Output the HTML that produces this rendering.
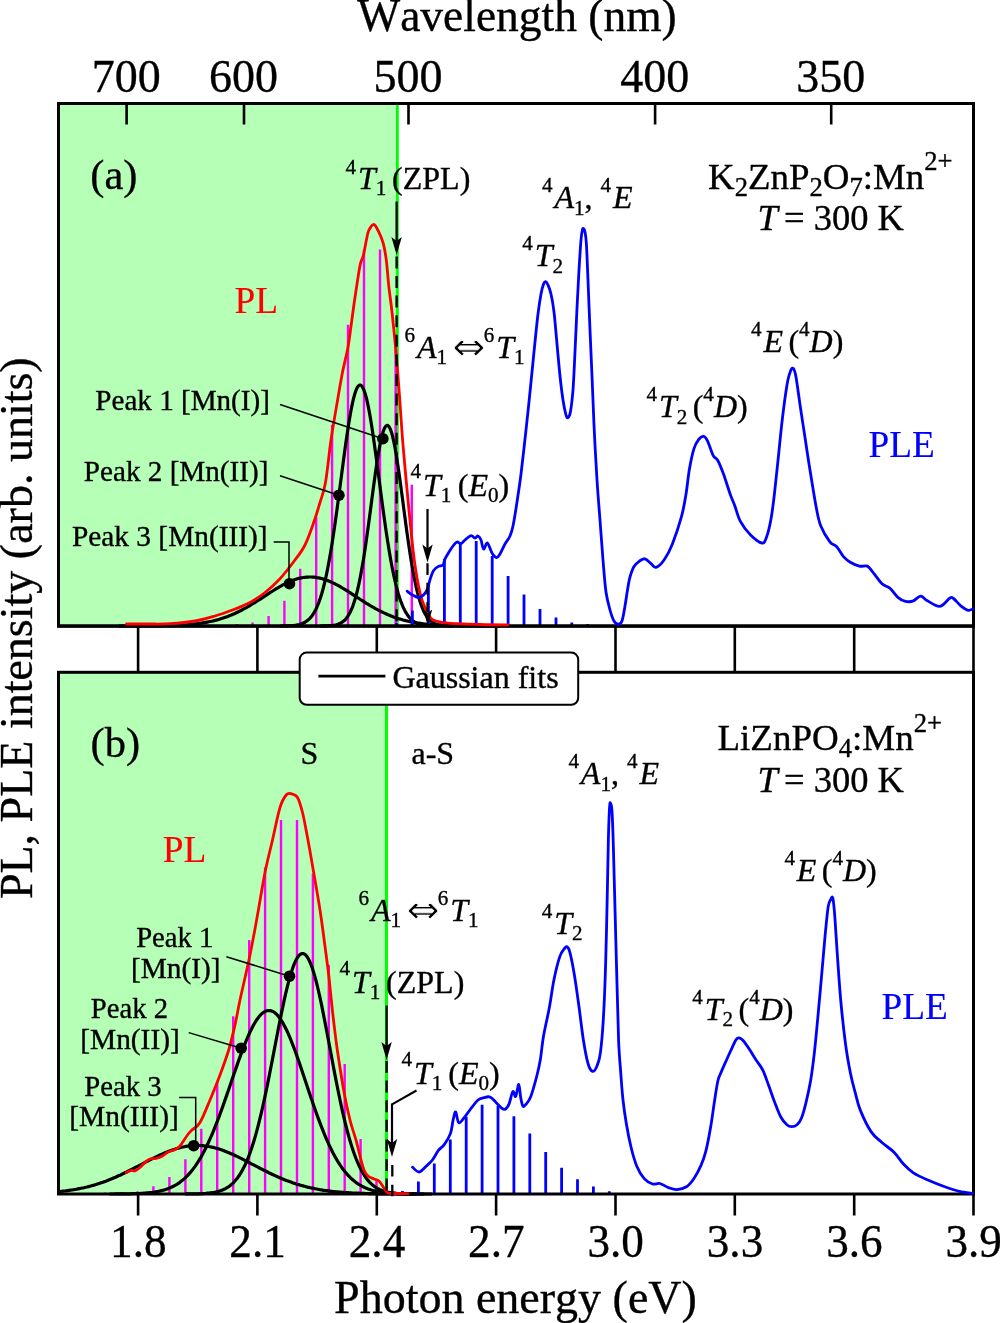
<!DOCTYPE html>
<html lang="en"><head><meta charset="utf-8"><title>PL and PLE spectra</title>
<style>html,body{margin:0;padding:0;background:#fff}svg{display:block}text{font-family:"Liberation Serif","Times New Roman",serif;stroke:#000;stroke-width:0.35px;font-kerning:none}.i{font-style:italic}</style></head><body>
<svg width="1000" height="1323" viewBox="0 0 1000 1323">
<rect width="1000" height="1323" fill="#fff"/>
<rect x="58.5" y="103.5" width="338.7" height="522.5" fill="#b6ffb6"/>
<rect x="58.5" y="672.3" width="328" height="521.7" fill="#b6ffb6"/>
<path d="M397.4 103.5V626" stroke="#00ff00" stroke-width="2.8" fill="none"/>
<path d="M386.5 672.3V1194" stroke="#00ff00" stroke-width="3" fill="none"/>
<path d="M236.8 626V624M252.5 626V622.5M268.6 626V616M284.4 626V600.7M300.2 626V568.7M316.2 626V517M332.1 626V424.8M348 626V324.8M364 626V249.6M380 626V249.6M395.6 626V345.7M411.8 626V484.8" stroke="#ff00ff" stroke-width="2.4" fill="none"/>
<path d="M105.5 1194V1192.5M121.6 1194V1192M137.5 1194V1191.2M153.4 1194V1186.2M169.4 1194V1177M185.4 1194V1159.2M201.3 1194V1128.7M217.2 1194V1082.5M233.2 1194V1016.2M249.2 1194V940M265.1 1194V867.5M281 1194V820M297 1194V820M312.9 1194V873.7M328.8 1194V965M344.7 1194V1064M360.6 1194V1139M376.5 1194V1181" stroke="#ff00ff" stroke-width="2.4" fill="none"/>
<path d="M320 626L321.5 626L323 625.9L324.5 625.9L326 625.9L327.5 625.8L329 625.7L330.5 625.6L332 625.5L333.5 625.3L335 625L336.5 624.7L338 624.2L339.5 623.6L341 622.9L342.5 621.9L344 620.8L345.5 619.3L347 617.5L348.5 615.2L350 612.5L351.5 609.3L353 605.6L354.5 601.1L356 596L357.5 590.2L359 583.5L360.5 576.1L362 567.9L363.5 559L365 549.4L366.5 539.1L368 528.3L369.5 517.2L371 505.8L372.5 494.4L374 483.2L375.5 472.4L377 462.2L378.5 452.9L380 444.6L381.5 437.6L383 432.1L384.5 428.1L386 425.9L387.5 425.3L389 426.6L390.5 429.5L392 434.1L393.5 440.3L395 447.8L396.5 456.5L398 466.2L399.5 476.6L401 487.6L402.5 498.9L404 510.4L405.5 521.7L407 532.7L408.5 543.3L410 553.3L411.5 562.7L413 571.3L414.5 579.2L416 586.3L417.5 592.6L419 598.2L420.5 603L422 607.2L423.5 610.7L425 613.7L426.5 616.2L428 618.2L429.5 619.9L431 621.3L432.5 622.4L434 623.2L435.5 623.9L437 624.4L438.5 624.8L440 625.1L441.5 625.4L443 625.5L444.5 625.7L446 625.8L447.5 625.8L449 625.9L450.5 625.9L452 625.9L453.5 626" stroke="#000" stroke-width="3.2" fill="none" stroke-linejoin="round"/>
<path d="M279.8 626L281.3 626L282.8 625.9L284.3 625.9L285.8 625.9L287.3 625.8L288.8 625.8L290.3 625.7L291.8 625.6L293.3 625.5L294.8 625.3L296.3 625.1L297.8 624.8L299.3 624.5L300.8 624L302.3 623.5L303.8 622.8L305.3 622L306.8 621L308.3 619.8L309.8 618.4L311.3 616.7L312.8 614.7L314.3 612.3L315.8 609.5L317.3 606.2L318.8 602.5L320.3 598.3L321.8 593.5L323.3 588L324.8 582L326.3 575.3L327.8 567.9L329.3 559.9L330.8 551.2L332.3 541.9L333.8 532.1L335.3 521.7L336.8 510.9L338.3 499.8L339.8 488.4L341.3 476.9L342.8 465.5L344.3 454.2L345.8 443.3L347.3 432.9L348.8 423.2L350.3 414.3L351.8 406.3L353.3 399.5L354.8 393.8L356.3 389.5L357.8 386.6L359.3 385.2L360.8 385.2L362.3 386.7L363.8 389.7L365.3 394L366.8 399.7L368.3 406.6L369.8 414.6L371.3 423.6L372.8 433.3L374.3 443.8L375.8 454.7L377.3 465.9L378.8 477.4L380.3 488.8L381.8 500.2L383.3 511.3L384.8 522.1L386.3 532.5L387.8 542.3L389.3 551.6L390.8 560.2L392.3 568.2L393.8 575.6L395.3 582.2L396.8 588.3L398.3 593.7L399.8 598.5L401.3 602.7L402.8 606.4L404.3 609.6L405.8 612.4L407.3 614.7L408.8 616.8L410.3 618.5L411.8 619.9L413.3 621.1L414.8 622.1L416.3 622.9L417.8 623.5L419.3 624L420.8 624.5L422.3 624.8L423.8 625.1L425.3 625.3L426.8 625.5L428.3 625.6L429.8 625.7L431.3 625.8L432.8 625.8L434.3 625.9L435.8 625.9L437.3 625.9L438.8 626" stroke="#000" stroke-width="3.2" fill="none" stroke-linejoin="round"/>
<path d="M118.9 626L120.4 626L121.9 626L123.4 626L124.9 626L126.4 626L127.9 626L129.4 626L130.9 626L132.4 626L133.9 626L135.4 626L136.9 626L138.4 626L139.9 626L141.4 625.9L142.9 625.9L144.4 625.9L145.9 625.9L147.4 625.9L148.9 625.9L150.4 625.9L151.9 625.9L153.4 625.9L154.9 625.9L156.4 625.8L157.9 625.8L159.4 625.8L160.9 625.8L162.4 625.7L163.9 625.7L165.4 625.7L166.9 625.7L168.4 625.6L169.9 625.6L171.4 625.5L172.9 625.5L174.4 625.4L175.9 625.4L177.4 625.3L178.9 625.2L180.4 625.2L181.9 625.1L183.4 625L184.9 624.9L186.4 624.8L187.9 624.7L189.4 624.5L190.9 624.4L192.4 624.3L193.9 624.1L195.4 623.9L196.9 623.8L198.4 623.6L199.9 623.4L201.4 623.2L202.9 622.9L204.4 622.7L205.9 622.4L207.4 622.1L208.9 621.8L210.4 621.5L211.9 621.2L213.4 620.9L214.9 620.5L216.4 620.1L217.9 619.7L219.4 619.3L220.9 618.8L222.4 618.3L223.9 617.8L225.4 617.3L226.9 616.8L228.4 616.2L229.9 615.6L231.4 615L232.9 614.3L234.4 613.7L235.9 613L237.4 612.3L238.9 611.5L240.4 610.8L241.9 610L243.4 609.2L244.9 608.4L246.4 607.6L247.9 606.7L249.4 605.8L250.9 604.9L252.4 604L253.9 603.1L255.4 602.1L256.9 601.2L258.4 600.2L259.9 599.3L261.4 598.3L262.9 597.3L264.4 596.3L265.9 595.4L267.4 594.4L268.9 593.4L270.4 592.4L271.9 591.5L273.4 590.5L274.9 589.6L276.4 588.7L277.9 587.8L279.4 586.9L280.9 586.1L282.4 585.2L283.9 584.4L285.4 583.7L286.9 582.9L288.4 582.2L289.9 581.6L291.4 580.9L292.9 580.3L294.4 579.8L295.9 579.3L297.4 578.8L298.9 578.4L300.4 578.1L301.9 577.8L303.4 577.5L304.9 577.3L306.4 577.2L307.9 577.1L309.4 577L310.9 577L312.4 577.1L313.9 577.2L315.4 577.3L316.9 577.6L318.4 577.8L319.9 578.1L321.4 578.5L322.9 578.9L324.4 579.4L325.9 579.9L327.4 580.5L328.9 581.1L330.4 581.7L331.9 582.4L333.4 583.1L334.9 583.8L336.4 584.6L337.9 585.4L339.4 586.2L340.9 587.1L342.4 588L343.9 588.9L345.4 589.8L346.9 590.7L348.4 591.7L349.9 592.6L351.4 593.6L352.9 594.6L354.4 595.6L355.9 596.5L357.4 597.5L358.9 598.5L360.4 599.5L361.9 600.4L363.4 601.4L364.9 602.3L366.4 603.3L367.9 604.2L369.4 605.1L370.9 606L372.4 606.9L373.9 607.7L375.4 608.6L376.9 609.4L378.4 610.2L379.9 610.9L381.4 611.7L382.9 612.4L384.4 613.1L385.9 613.8L387.4 614.5L388.9 615.1L390.4 615.7L391.9 616.3L393.4 616.9L394.9 617.4L396.4 617.9L397.9 618.4L399.4 618.9L400.9 619.3L402.4 619.8L403.9 620.2L405.4 620.6L406.9 620.9L408.4 621.3L409.9 621.6L411.4 621.9L412.9 622.2L414.4 622.5L415.9 622.7L417.4 623L418.9 623.2L420.4 623.4L421.9 623.6L423.4 623.8L424.9 624L426.4 624.1L427.9 624.3L429.4 624.4L430.9 624.6L432.4 624.7L433.9 624.8L435.4 624.9L436.9 625L438.4 625.1L439.9 625.2L441.4 625.2L442.9 625.3L444.4 625.4L445.9 625.4L447.4 625.5L448.9 625.5L450.4 625.6L451.9 625.6L453.4 625.7L454.9 625.7L456.4 625.7L457.9 625.8L459.4 625.8L460.9 625.8L462.4 625.8L463.9 625.8L465.4 625.9L466.9 625.9L468.4 625.9L469.9 625.9L471.4 625.9L472.9 625.9L474.4 625.9L475.9 625.9L477.4 625.9L478.9 626L480.4 626L481.9 626L483.4 626L484.9 626L486.4 626L487.9 626L489.4 626L490.9 626L492.4 626L493.9 626L495.4 626L496.9 626L498.4 626L499.9 626" stroke="#000" stroke-width="3.2" fill="none" stroke-linejoin="round"/>
<path d="M185 1194L186.5 1194L188 1193.9L189.5 1193.9L191 1193.9L192.5 1193.9L194 1193.9L195.5 1193.8L197 1193.8L198.5 1193.8L200 1193.7L201.5 1193.6L203 1193.6L204.5 1193.5L206 1193.4L207.5 1193.2L209 1193.1L210.5 1192.9L212 1192.7L213.5 1192.5L215 1192.2L216.5 1191.9L218 1191.5L219.5 1191.1L221 1190.6L222.5 1190L224 1189.3L225.5 1188.6L227 1187.7L228.5 1186.8L230 1185.7L231.5 1184.4L233 1183.1L234.5 1181.5L236 1179.8L237.5 1177.9L239 1175.8L240.5 1173.4L242 1170.9L243.5 1168.1L245 1165L246.5 1161.7L248 1158.1L249.5 1154.2L251 1150L252.5 1145.5L254 1140.7L255.5 1135.6L257 1130.1L258.5 1124.4L260 1118.4L261.5 1112.1L263 1105.5L264.5 1098.7L266 1091.6L267.5 1084.4L269 1076.9L270.5 1069.3L272 1061.6L273.5 1053.9L275 1046L276.5 1038.2L278 1030.5L279.5 1022.9L281 1015.4L282.5 1008.1L284 1001.1L285.5 994.4L287 988.1L288.5 982.1L290 976.7L291.5 971.7L293 967.2L294.5 963.4L296 960.1L297.5 957.5L299 955.5L300.5 954.2L302 953.6L303.5 953.6L305 954.4L306.5 955.9L308 958.2L309.5 961.1L311 964.6L312.5 968.8L314 973.6L315.5 978.9L317 984.7L318.5 991L320 997.7L321.5 1004.7L323 1012.1L324.5 1019.7L326 1027.4L327.5 1035.3L329 1043.3L330.5 1051.3L332 1059.3L333.5 1067.3L335 1075.1L336.5 1082.8L338 1090.2L339.5 1097.5L341 1104.6L342.5 1111.3L344 1117.8L345.5 1124L347 1129.9L348.5 1135.5L350 1140.7L351.5 1145.6L353 1150.2L354.5 1154.5L356 1158.5L357.5 1162.2L359 1165.5L360.5 1168.6L362 1171.5L363.5 1174L365 1176.4L366.5 1178.5L368 1180.4L369.5 1182.1L371 1183.6L372.5 1184.9L374 1186.1L375.5 1187.2L377 1188.1L378.5 1189L380 1189.7L381.5 1190.3L383 1190.9L384.5 1191.3L386 1191.7L387.5 1192.1L389 1192.4L390.5 1192.7L392 1192.9L393.5 1193.1L395 1193.2L396.5 1193.4L398 1193.5L399.5 1193.6L401 1193.6L402.5 1193.7L404 1193.8L405.5 1193.8L407 1193.8L408.5 1193.9L410 1193.9L411.5 1193.9L413 1193.9L414.5 1193.9L416 1194" stroke="#000" stroke-width="3.2" fill="none" stroke-linejoin="round"/>
<path d="M109.4 1194L110.9 1194L112.4 1194L113.9 1194L115.4 1193.9L116.9 1193.9L118.4 1193.9L119.9 1193.9L121.4 1193.9L122.9 1193.9L124.4 1193.9L125.9 1193.8L127.4 1193.8L128.9 1193.8L130.4 1193.8L131.9 1193.7L133.4 1193.7L134.9 1193.6L136.4 1193.6L137.9 1193.5L139.4 1193.5L140.9 1193.4L142.4 1193.3L143.9 1193.2L145.4 1193.1L146.9 1192.9L148.4 1192.8L149.9 1192.6L151.4 1192.5L152.9 1192.3L154.4 1192.1L155.9 1191.8L157.4 1191.5L158.9 1191.2L160.4 1190.9L161.9 1190.5L163.4 1190.1L164.9 1189.7L166.4 1189.2L167.9 1188.7L169.4 1188.1L170.9 1187.4L172.4 1186.7L173.9 1186L175.4 1185.2L176.9 1184.3L178.4 1183.3L179.9 1182.3L181.4 1181.1L182.9 1179.9L184.4 1178.6L185.9 1177.2L187.4 1175.7L188.9 1174.1L190.4 1172.4L191.9 1170.6L193.4 1168.6L194.9 1166.6L196.4 1164.4L197.9 1162.1L199.4 1159.7L200.9 1157.2L202.4 1154.5L203.9 1151.7L205.4 1148.8L206.9 1145.7L208.4 1142.5L209.9 1139.2L211.4 1135.8L212.9 1132.3L214.4 1128.6L215.9 1124.9L217.4 1121L218.9 1117.1L220.4 1113L221.9 1108.9L223.4 1104.7L224.9 1100.4L226.4 1096.1L227.9 1091.8L229.4 1087.4L230.9 1083L232.4 1078.6L233.9 1074.2L235.4 1069.9L236.9 1065.6L238.4 1061.3L239.9 1057.1L241.4 1053L242.9 1049.1L244.4 1045.2L245.9 1041.5L247.4 1037.9L248.9 1034.5L250.4 1031.2L251.9 1028.2L253.4 1025.3L254.9 1022.7L256.4 1020.3L257.9 1018.2L259.4 1016.3L260.9 1014.6L262.4 1013.2L263.9 1012.1L265.4 1011.3L266.9 1010.8L268.4 1010.5L269.9 1010.6L271.4 1010.9L272.9 1011.5L274.4 1012.4L275.9 1013.7L277.4 1015.2L278.9 1017L280.4 1019L281.9 1021.3L283.4 1023.9L284.9 1026.7L286.4 1029.7L287.9 1032.9L289.4 1036.4L290.9 1040L292.4 1043.8L293.9 1047.7L295.4 1051.7L296.9 1055.9L298.4 1060.2L299.9 1064.5L301.4 1068.9L302.9 1073.4L304.4 1077.9L305.9 1082.4L307.4 1086.9L308.9 1091.4L310.4 1095.9L311.9 1100.3L313.4 1104.7L314.9 1109L316.4 1113.2L317.9 1117.4L319.4 1121.4L320.9 1125.4L322.4 1129.2L323.9 1133L325.4 1136.6L326.9 1140.1L328.4 1143.4L329.9 1146.6L331.4 1149.7L332.9 1152.7L334.4 1155.5L335.9 1158.2L337.4 1160.8L338.9 1163.2L340.4 1165.5L341.9 1167.7L343.4 1169.7L344.9 1171.6L346.4 1173.4L347.9 1175.1L349.4 1176.7L350.9 1178.2L352.4 1179.5L353.9 1180.8L355.4 1182L356.9 1183.1L358.4 1184.1L359.9 1185L361.4 1185.9L362.9 1186.7L364.4 1187.4L365.9 1188.1L367.4 1188.7L368.9 1189.2L370.4 1189.7L371.9 1190.2L373.4 1190.6L374.9 1190.9L376.4 1191.3L377.9 1191.6L379.4 1191.9L380.9 1192.1L382.4 1192.3L383.9 1192.5L385.4 1192.7L386.9 1192.9L388.4 1193L389.9 1193.1L391.4 1193.2L392.9 1193.3L394.4 1193.4L395.9 1193.5L397.4 1193.6L398.9 1193.6L400.4 1193.7L401.9 1193.7L403.4 1193.7L404.9 1193.8L406.4 1193.8L407.9 1193.8L409.4 1193.9L410.9 1193.9L412.4 1193.9L413.9 1193.9L415.4 1193.9L416.9 1193.9L418.4 1193.9L419.9 1194L421.4 1194L422.9 1194L424.4 1194" stroke="#000" stroke-width="3.2" fill="none" stroke-linejoin="round"/>
<path d="M58.5 1191.7L60 1191.6L61.5 1191.4L63 1191.2L64.5 1191L66 1190.9L67.5 1190.7L69 1190.4L70.5 1190.2L72 1190L73.5 1189.7L75 1189.5L76.5 1189.2L78 1188.9L79.5 1188.6L81 1188.3L82.5 1188L84 1187.7L85.5 1187.3L87 1187L88.5 1186.6L90 1186.2L91.5 1185.8L93 1185.4L94.5 1184.9L96 1184.5L97.5 1184L99 1183.5L100.5 1183L102 1182.5L103.5 1182L105 1181.4L106.5 1180.9L108 1180.3L109.5 1179.7L111 1179.1L112.5 1178.5L114 1177.8L115.5 1177.2L117 1176.5L118.5 1175.8L120 1175.2L121.5 1174.5L123 1173.7L124.5 1173L126 1172.3L127.5 1171.5L129 1170.8L130.5 1170L132 1169.3L133.5 1168.5L135 1167.7L136.5 1166.9L138 1166.2L139.5 1165.4L141 1164.6L142.5 1163.8L144 1163L145.5 1162.2L147 1161.4L148.5 1160.7L150 1159.9L151.5 1159.1L153 1158.4L154.5 1157.6L156 1156.9L157.5 1156.2L159 1155.5L160.5 1154.8L162 1154.1L163.5 1153.4L165 1152.8L166.5 1152.2L168 1151.6L169.5 1151L171 1150.5L172.5 1149.9L174 1149.4L175.5 1148.9L177 1148.5L178.5 1148.1L180 1147.7L181.5 1147.3L183 1147L184.5 1146.7L186 1146.4L187.5 1146.2L189 1146L190.5 1145.8L192 1145.7L193.5 1145.6L195 1145.5L196.5 1145.5L198 1145.5L199.5 1145.5L201 1145.6L202.5 1145.7L204 1145.9L205.5 1146.1L207 1146.3L208.5 1146.5L210 1146.8L211.5 1147.1L213 1147.4L214.5 1147.8L216 1148.2L217.5 1148.6L219 1149.1L220.5 1149.6L222 1150.1L223.5 1150.6L225 1151.2L226.5 1151.8L228 1152.4L229.5 1153L231 1153.7L232.5 1154.3L234 1155L235.5 1155.7L237 1156.4L238.5 1157.1L240 1157.9L241.5 1158.6L243 1159.4L244.5 1160.2L246 1160.9L247.5 1161.7L249 1162.5L250.5 1163.3L252 1164.1L253.5 1164.8L255 1165.6L256.5 1166.4L258 1167.2L259.5 1168L261 1168.8L262.5 1169.5L264 1170.3L265.5 1171L267 1171.8L268.5 1172.5L270 1173.3L271.5 1174L273 1174.7L274.5 1175.4L276 1176.1L277.5 1176.7L279 1177.4L280.5 1178L282 1178.7L283.5 1179.3L285 1179.9L286.5 1180.5L288 1181L289.5 1181.6L291 1182.1L292.5 1182.7L294 1183.2L295.5 1183.7L297 1184.2L298.5 1184.6L300 1185.1L301.5 1185.5L303 1185.9L304.5 1186.3L306 1186.7L307.5 1187.1L309 1187.4L310.5 1187.8L312 1188.1L313.5 1188.4L315 1188.7L316.5 1189L318 1189.3L319.5 1189.6L321 1189.8L322.5 1190.1L324 1190.3L325.5 1190.5L327 1190.7L328.5 1190.9L330 1191.1L331.5 1191.3L333 1191.5L334.5 1191.6L336 1191.8L337.5 1191.9L339 1192.1L340.5 1192.2L342 1192.3L343.5 1192.4L345 1192.5L346.5 1192.6L348 1192.7L349.5 1192.8L351 1192.9L352.5 1193L354 1193L355.5 1193.1L357 1193.2L358.5 1193.2L360 1193.3L361.5 1193.4L363 1193.4L364.5 1193.4L366 1193.5L367.5 1193.5L369 1193.6L370.5 1193.6L372 1193.6L373.5 1193.7L375 1193.7L376.5 1193.7L378 1193.7L379.5 1193.8L381 1193.8L382.5 1193.8L384 1193.8L385.5 1193.8L387 1193.8L388.5 1193.9L390 1193.9L391.5 1193.9L393 1193.9L394.5 1193.9L396 1193.9L397.5 1193.9L399 1193.9L400.5 1193.9L402 1193.9L403.5 1193.9L405 1194L406.5 1194L408 1194L409.5 1194L411 1194L412.5 1194L414 1194L415.5 1194L417 1194L418.5 1194L420 1194L421.5 1194L423 1194L424.5 1194L426 1194L427.5 1194L429 1194L430.5 1194L432 1194" stroke="#000" stroke-width="3.2" fill="none" stroke-linejoin="round"/>
<path d="M396.4 627V623M412.4 627V610.4M428.4 627V583M444.4 627V559M460.3 627V542M476.2 627V541M492.2 627V556M508.1 627V576M524 627V594.6M540 627V609M556 627V617.6M571.8 627V622.4M587.7 627V624" stroke="#0000ff" stroke-width="2.8" fill="none"/>
<path d="M402.4 1195V1191M418.4 1195V1181.6M434.3 1195V1163.6M450.3 1195V1139.6M466.2 1195V1116.8M482.1 1195V1104.8M498 1195V1106M513.9 1195V1116.3M529.8 1195V1133.6M545.7 1195V1152M561.6 1195V1167.7M577.5 1195V1179.2M593.4 1195V1186.4M609.3 1195V1191.2M625.2 1195V1192.9" stroke="#0000ff" stroke-width="2.8" fill="none"/>
<rect x="58.5" y="103.5" width="915" height="522.5" fill="none" stroke="#000" stroke-width="3"/>
<rect x="58.5" y="672.3" width="915" height="521.7" fill="none" stroke="#000" stroke-width="3"/>
<path d="M57 626.2H975" stroke="#000" stroke-width="3.3" fill="none"/>
<path d="M126.6 103.5V124.5M244 103.5V124.5M408.5 103.5V124.5M655.1 103.5V124.5M831.2 103.5V124.5M138.1 626V672.3M138.1 1194V1215.5M257.4 626V672.3M257.4 1194V1215.5M376.8 626V672.3M376.8 1194V1215.5M496.1 626V672.3M496.1 1194V1215.5M615.5 626V672.3M615.5 1194V1215.5M734.8 626V672.3M734.8 1194V1215.5M854.2 626V672.3M854.2 1194V1215.5M973.5 626V672.3M973.5 1194V1215.5" stroke="#000" stroke-width="2.6" fill="none"/>
<path d="M126.5 624C130.4 624 142.8 624 150 624C157.2 624 162.5 624.2 170 623.7C177.5 623.2 187.5 622.3 195 621C202.5 619.7 208.8 617.8 215 616C221.2 614.2 226.7 612.2 232.5 610C238.3 607.8 244.6 605.4 250 602.5C255.4 599.6 260 596.5 265 592.5C270 588.5 275 584.1 280 578.7C285 573.3 290.8 565.6 295 560C299.2 554.4 301.9 551.2 305 545C308.1 538.8 311.2 529.6 313.7 522.5C316.2 515.4 318 509.2 320 502.5C322 495.8 323.7 492.9 325.5 482.5C327.3 472.1 329 453.8 331 440C333 426.2 335.7 411.2 337.6 400C339.5 388.8 340.7 381.6 342.4 372.8C344.1 364 346.5 355.2 348 347.2C349.5 339.2 350 333.3 351.2 324.8C352.4 316.3 353.7 305.9 355.2 296C356.7 286.1 358.7 272.3 360 265.6C361.3 258.9 362.1 260.3 363.2 256C364.3 251.7 365.5 244.3 366.4 240C367.3 235.7 367.6 233 368.8 230.4C370.1 227.8 372.3 224.4 373.9 224.5C375.5 224.6 376.8 228.1 378.4 231.2C379.9 234.3 381.9 238.3 383.2 243.2C384.5 248.1 385.5 253.6 386.4 260.8C387.3 268 387.9 277.9 388.8 286.4C389.7 294.9 390.8 301.1 392 312C393.2 322.9 394.8 338.7 396 352C397.2 365.3 398 376.5 399.2 392C400.4 407.5 401.5 427 403 445C404.5 463 406.4 482.8 408 500C409.6 517.2 411.5 536 412.8 548C414.1 560 414.7 564 416 572C417.3 580 419.2 589.9 420.8 596C422.4 602.1 424 605.2 425.6 608.8C427.2 612.4 428.8 615.6 430.4 617.6C432 619.6 432.3 619.9 435.2 620.8C438.1 621.7 440.5 622.6 448 623.2C455.5 623.8 470 624.2 480 624.5C490 624.8 503.3 624.8 508 624.8" stroke="#ff0000" stroke-width="2.8" fill="none" stroke-linejoin="round" stroke-linecap="round"/>
<path d="M126.2 1172.5C127 1172.2 129.5 1170.8 131 1170.5C132.5 1170.2 133.5 1171.3 135 1170.8C136.5 1170.3 138.3 1168.9 140 1167.5C141.7 1166.1 143.3 1163.9 145 1162.5C146.7 1161.1 148.2 1159.7 150 1159C151.8 1158.3 153.9 1159 156 1158.5C158.1 1158 160.5 1157.1 162.5 1156C164.5 1154.9 166.1 1153 168 1152C169.9 1151 172 1151 174 1150C176 1149 177.8 1148.5 180 1146C182.2 1143.5 185.5 1137.7 187.5 1135C189.5 1132.3 189.9 1132.1 192 1130C194.1 1127.9 197 1127.5 200 1122.5C203 1117.5 206.7 1107.9 210 1100C213.3 1092.1 216.9 1083.3 220 1075C223.1 1066.7 226.2 1058.3 228.7 1050C231.2 1041.7 233.1 1033.3 235 1025C236.9 1016.7 237.5 1011.7 240 1000C242.5 988.3 247.1 969.2 250 955C252.9 940.8 255 928.8 257.5 915C260 901.2 262.5 885 265 872.5C267.5 860 270 850.8 272.5 840C275 829.2 277.7 815 280 807.5C282.3 800 284.3 797.3 286.2 795C288.1 792.7 289.3 793.3 291.2 793.7C293.1 794.1 295.6 794.4 297.5 797.5C299.4 800.6 300.8 805.8 302.5 812.5C304.2 819.2 305.6 827.5 307.5 837.5C309.4 847.5 311.6 860.4 313.7 872.5C315.8 884.6 318.2 898.3 320 910C321.8 921.7 323.1 931.7 324.5 942.5C325.9 953.3 327.6 965.4 328.7 975C329.8 984.6 330.5 992.5 331.3 1000C332.1 1007.5 332.5 1011.7 333.5 1020C334.5 1028.3 335.6 1038 337.3 1050C339.1 1062 341.9 1080.3 344 1092C346.1 1103.7 348 1112 350 1120C352 1128 354.3 1134 356 1140C357.7 1146 358.7 1151 360 1156C361.3 1161 362.7 1166.7 364 1170C365.3 1173.3 366.3 1174.5 368 1176C369.7 1177.5 372.2 1178.2 374 1179C375.8 1179.8 377.3 1179.5 379 1181C380.7 1182.5 382.5 1186 384 1188C385.5 1190 385.7 1192.1 388 1193C390.3 1193.9 394.7 1193.4 398 1193.5C401.3 1193.6 406.3 1193.6 408 1193.6" stroke="#ff0000" stroke-width="2.8" fill="none" stroke-linejoin="round" stroke-linecap="round"/>
<path d="M407.2 591.2C408.1 591.9 410.8 594.1 412.8 595.2C414.8 596.3 417.3 597.7 419.2 597.6C421.1 597.5 422.7 595.7 424 594.4C425.3 593.1 426.1 592.3 427.2 589.6C428.3 586.9 429.3 581.6 430.4 578.4C431.5 575.2 432.3 572.4 433.6 570.4C434.9 568.4 436.8 567.3 438.4 566.4C440 565.5 441.9 566.2 443 565C444.1 563.8 444 561.2 445 559C446 556.8 447.7 554.2 449 552C450.3 549.8 451.7 547.7 453 546C454.3 544.3 455.7 542.4 457 542C458.3 541.6 459.7 543.9 461 543.6C462.3 543.3 463.3 541.3 465 540C466.7 538.7 469.3 535.9 471 535.6C472.7 535.3 473.8 537.9 475 538C476.2 538.1 477 535.7 478 536C479 536.3 480.1 537.8 481 540C481.9 542.2 482.5 548.5 483.6 549C484.7 549.5 486 542.3 487.4 543C488.8 543.7 490.5 550.6 492 553C493.5 555.4 495.3 557.4 496.6 557.6C497.9 557.8 498.6 556.3 500 554C501.4 551.7 503.3 547 505 544C506.7 541 508.7 539 510 536C511.3 533 511.8 531.7 513 526C514.2 520.3 515.7 510.7 517 502C518.3 493.3 519.5 486 521 474C522.5 462 524.5 443.7 526 430C527.5 416.3 528.7 405 530 392C531.3 379 532.7 365 534 352C535.3 339 536.8 323.7 538 314C539.2 304.3 540.1 299 541 294C541.9 289 542.8 286.1 543.6 284C544.4 281.9 544.9 281.4 545.6 281.6C546.3 281.8 547.1 282.9 548 285C548.9 287.1 550 289.5 551 294C552 298.5 553 303.7 554 312C555 320.3 556 333.3 557 344C558 354.7 559 366.7 560 376C561 385.3 562 393.5 563 400C564 406.5 565.2 412.1 566 415C566.8 417.9 567.3 418.1 568 417.6C568.7 417.1 569.6 416.6 570.4 412C571.2 407.4 572.2 400 573 390C573.8 380 574.3 365.7 575 352C575.7 338.3 576.3 321.7 577 308C577.7 294.3 578.3 281.3 579 270C579.7 258.7 580.4 246.7 581 240C581.6 233.3 582 231.9 582.4 230C582.8 228.1 583.2 228.3 583.6 228.6C584 228.9 584.5 229.4 585 232C585.5 234.6 585.9 236 586.4 244C586.9 252 587.4 265.7 588 280C588.6 294.3 589.3 314 590 330C590.7 346 591.3 360.2 592 376C592.7 391.8 593.2 407.7 594 425C594.8 442.3 596 464.2 597 480C598 495.8 599 506.7 600 520C601 533.3 602 548 603 560C604 572 604.8 583.7 606 592C607.2 600.3 608.7 605.2 610 610C611.3 614.8 612.6 618.6 614 621C615.4 623.4 617 624.2 618.3 624.2C619.6 624.2 620.9 624 622 621C623.1 618 624.1 611.2 625 606C625.9 600.8 626.7 594.8 627.5 590C628.3 585.2 628.9 580.9 630 577C631.1 573.1 632.4 569.2 634 566.5C635.6 563.8 637.7 562.3 639.5 561C641.3 559.7 643.1 558.4 645 558.8C646.9 559.2 649 562 650.8 563.4C652.6 564.8 653.7 568 656 567.4C658.3 566.8 661.7 563.4 664.4 559.5C667.1 555.6 669.6 551.1 672.4 544C675.2 536.9 679.1 525.2 681.4 516.9C683.7 508.6 684.7 502.1 686 494.2C687.3 486.3 688.1 476.9 689.4 469.3C690.7 461.7 692.4 453.7 693.9 448.8C695.4 443.9 696.8 441.9 698.4 439.8C700 437.7 702.2 436.2 703.7 436.4C705.2 436.6 705.9 437.7 707.5 440.9C709.1 444.1 711.5 452.4 713.2 455.6C714.9 458.8 716 457.2 717.7 460.2C719.4 463.2 721.3 468.1 723.4 473.8C725.5 479.5 728.3 488.9 730.2 494.2C732.1 499.5 733 501 734.7 505.5C736.4 510 737.8 516.5 740.4 521.4C743 526.3 747 531.4 750.6 535C754.2 538.6 759.2 542.6 761.9 543C764.5 543.4 765 541.3 766.5 537.3C768 533.3 769.7 526.3 771 519.1C772.3 511.9 773.3 503.6 774.4 494.2C775.5 484.8 776.5 474.9 777.8 462.4C779.1 449.9 780.8 432.2 782.3 419.4C783.8 406.6 785.6 393.3 786.9 385.4C788.2 377.4 789.2 374.5 790.3 371.7C791.3 368.9 792.2 367.4 793.2 368.3C794.2 369.2 794.8 370.4 796 377C797.2 383.6 799 397.9 800.5 408C802 418.1 803.5 427.7 805 437.5C806.5 447.3 807.6 455.3 809.5 467C811.4 478.7 814.4 498 816.3 507.8C818.2 517.6 818.5 520.3 820.8 526C823.1 531.7 827.2 538.3 829.9 541.8C832.5 545.3 834.4 544.3 836.7 546.8C839 549.3 841.2 554 843.5 556.6C845.8 559.2 847.6 560.6 850.3 562.2C852.9 563.8 856.6 565.5 859.4 566.1C862.2 566.8 865 565.1 867.3 566.1C869.6 567.1 870.5 569.5 873 572.4C875.5 575.3 879.2 581.1 882 583.8C884.8 586.4 887.4 586 890 588.3C892.6 590.6 895.4 595.2 897.9 597.4C900.4 599.5 902.2 600.6 904.7 601.2C907.2 601.8 910.1 602 912.7 601.2C915.4 600.4 918.2 596.3 920.6 596.2C923 596.1 924.2 599.1 927.4 600.8C930.6 602.5 936.1 606.9 939.9 606.4C943.7 605.9 947.7 599.3 950 598C952.3 596.7 951.6 597.1 953.5 598.5C955.4 599.9 958.9 604.4 961.4 606.4C963.9 608.4 966.2 609.9 968.2 610.3C970.2 610.7 972.4 609 973.2 608.7" stroke="#0000ff" stroke-width="2.8" fill="none" stroke-linejoin="round" stroke-linecap="round"/>
<path d="M412.5 1167.2C413.6 1168 416.9 1172.2 419.2 1172C421.5 1171.8 424.2 1168 426.4 1166C428.6 1164 430.4 1162.6 432.4 1160C434.4 1157.4 436.4 1153 438.4 1150.4C440.4 1147.8 442.4 1147.2 444.4 1144.4C446.4 1141.6 448.9 1137.8 450.4 1133.6C451.9 1129.4 452.4 1122.8 453.3 1119.2C454.2 1115.6 454.8 1111.4 455.7 1112C456.6 1112.6 457.3 1122 458.8 1122.8C460.3 1123.6 462.6 1119.4 464.8 1116.8C467 1114.2 469.8 1110 472 1107.2C474.2 1104.4 476 1101.6 478 1100C480 1098.4 482 1098.1 484 1097.6C486 1097.1 488 1096.2 490 1097C492 1097.8 494 1100.5 496 1102.4C498 1104.3 500.4 1107.3 502 1108.4C503.6 1109.5 504.4 1109.8 505.6 1109C506.8 1108.2 508 1106.5 509.2 1103.6C510.4 1100.7 511.7 1092.8 512.8 1091.6C513.9 1090.4 514.7 1097.6 515.7 1096.4C516.7 1095.2 518 1084.2 518.8 1084.4C519.6 1084.6 520 1094 520.7 1097.6C521.4 1101.2 522 1104.9 522.9 1106C523.8 1107.1 524.7 1105.9 526 1104.3C527.3 1102.7 529 1101.1 530.8 1096.4C532.6 1091.7 535.2 1082.2 536.8 1076C538.4 1069.8 539.3 1065.8 540.4 1059.2C541.5 1052.6 542 1044.9 543.5 1036.2C545 1027.5 547.8 1016.2 549.5 1006.8C551.2 997.3 552.3 987.8 554 979.5C555.7 971.2 558 962 559.7 956.9C561.4 951.8 563 950.6 564.2 948.9C565.4 947.2 566 946.1 566.9 946.7C567.8 947.3 568.6 947.6 569.9 952.3C571.1 957 572.9 965.9 574.4 975C575.9 984.1 577.5 995.8 579 1006.8C580.5 1017.8 582 1031.3 583.5 1040.8C585 1050.2 586.5 1058.4 588 1063.5C589.5 1068.6 591.1 1071 592.6 1071.4C594.1 1071.8 595.8 1068.9 597.1 1065.7C598.4 1062.5 599.5 1060 600.5 1052.1C601.5 1044.2 602.5 1033.2 603.4 1018.1C604.3 1003 605.1 982.2 605.7 961.4C606.4 940.6 606.8 914 607.3 893.4C607.8 872.8 608 852.5 608.4 838C608.8 823.5 609.2 812.2 609.6 806.5C610 800.8 610.3 803 610.7 803.7C611.1 804.5 611.5 803.6 612 811C612.5 818.4 612.9 830.5 613.4 848C613.9 865.5 614.6 893.4 615.2 916.1C615.8 938.8 616.4 963.3 617 984.1C617.6 1004.9 618 1025.7 618.6 1040.8C619.2 1055.9 620.2 1064.9 620.9 1074.8C621.6 1084.7 622.1 1091.8 623 1100C623.9 1108.2 625.1 1116.2 626.4 1124C627.7 1131.8 629.3 1140 631 1147C632.7 1154 634.5 1160.7 636.7 1166C638.9 1171.3 641.6 1175.7 644.2 1178.7C646.9 1181.7 650 1183.2 652.6 1184C655.2 1184.8 657.3 1182.9 659.9 1183.5C662.5 1184.1 665.6 1186.6 668.4 1187.6C671.2 1188.6 673.8 1189.8 676.8 1189.6C679.8 1189.4 683.7 1188.5 686.5 1186.7C689.3 1184.9 691.4 1182.2 693.8 1178.7C696.2 1175.2 699 1170 701 1165.4C703 1160.8 704.3 1157.4 705.9 1150.9C707.5 1144.5 709.3 1134.8 710.7 1126.7C712.1 1118.6 713.1 1110.2 714.3 1102.5C715.5 1094.8 716.7 1085.9 717.9 1080.7C719.1 1075.5 720.2 1074.5 721.6 1071.1C723 1067.7 724.6 1064.2 726.4 1060.2C728.2 1056.2 730.9 1050.3 732.5 1046.9C734.1 1043.5 735 1041.1 736.1 1039.6C737.2 1038.1 738 1037.7 739.2 1037.9C740.4 1038.1 741.6 1038.9 743.3 1040.8C745 1042.7 747.4 1046.3 749.4 1049.3C751.4 1052.3 753.2 1055.6 755.4 1059C757.6 1062.4 760.5 1065.5 762.7 1069.9C764.9 1074.3 766.7 1080.2 768.7 1085.6C770.7 1091 772.8 1097.3 774.8 1102.5C776.8 1107.7 778.8 1113.3 780.8 1117C782.8 1120.7 785.1 1123.2 786.9 1124.8C788.7 1126.4 790 1126.7 791.7 1126.7C793.4 1126.7 795.4 1126.2 797 1124.8C798.6 1123.3 800 1121.7 801.5 1118C803 1114.3 804.5 1108.8 806 1102.6C807.5 1096.4 809.2 1088.9 810.6 1080.8C812 1072.7 813 1064.7 814.2 1054.2C815.4 1043.7 816.6 1030.8 817.8 1017.9C819 1005 820.3 990.5 821.5 976.8C822.7 963.1 824 947.3 825.1 935.6C826.2 923.9 827.3 912.6 828.2 906.6C829.1 900.6 829.8 901.2 830.6 899.8C831.4 898.4 832.1 895.4 832.8 898.1C833.5 900.9 834.1 907.2 834.8 916.3C835.5 925.4 836.2 938.5 837.2 952.6C838.2 966.7 839.4 985.7 840.8 1001C842.2 1016.3 844 1032.4 845.6 1044.5C847.2 1056.6 848.9 1065.5 850.5 1073.6C852.1 1081.7 853.7 1086.9 855.3 1092.9C856.9 1099 857.6 1103.5 860.2 1109.9C862.8 1116.4 867.4 1126.2 871 1131.6C874.6 1137 878.1 1139.1 881.9 1142.5C885.7 1145.9 890.4 1148.6 894 1152.2C897.6 1155.8 900.5 1160.9 903.7 1164.3C906.9 1167.7 909.4 1170.2 913.4 1172.8C917.4 1175.4 922.7 1177.7 927.9 1180C933.1 1182.3 939.5 1184.9 944.8 1186.8C950 1188.7 954.8 1190.3 959.4 1191.4C964 1192.5 970.5 1193 972.7 1193.3" stroke="#0000ff" stroke-width="2.8" fill="none" stroke-linejoin="round" stroke-linecap="round"/>
<path d="M396.6 201.5V244.2" stroke="#000" stroke-width="2.3" fill="none"/>
<path d="M396.6 255L391.4 237L396.6 241L401.8 237Z" fill="#000"/>
<path d="M396.6 256.4V626" stroke="#000" stroke-width="2.4" stroke-dasharray="12 7.6" fill="none"/>
<path d="M427.5 509V551.7" stroke="#000" stroke-width="2.2" fill="none"/>
<path d="M427.5 562.5L422.3 544.5L427.5 548.5L432.7 544.5Z" fill="#000"/>
<path d="M427.5 563.3V612" stroke="#000" stroke-width="2.3" stroke-dasharray="11.7 7.7" fill="none"/>
<path d="M427.7 625.8L423.2 609.4L427.7 613L432.2 609.4Z" fill="#000"/>
<path d="M386.6 1005.5V1049.2" stroke="#000" stroke-width="2.3" fill="none"/>
<path d="M386.6 1060L381.4 1042L386.6 1046L391.8 1042Z" fill="#000"/>
<path d="M386.6 1061V1194" stroke="#000" stroke-width="2.4" stroke-dasharray="12 7.6" fill="none"/>
<path d="M416.5 1090.5L392 1104.3" stroke="#000" stroke-width="2.1" fill="none" stroke-linejoin="miter"/>
<path d="M392 1103.5V1146.2" stroke="#000" stroke-width="2.2" fill="none"/>
<path d="M392 1157L386.8 1139L392 1143L397.2 1139Z" fill="#000"/>
<path d="M392.3 1196.2V1158.5" stroke="#000" stroke-width="2.3" stroke-dasharray="11.4 8.4" fill="none"/>
<path d="M280 404.5L382.9 438.7M280 475.7L338.9 495.2M273.7 542H289V583.7" stroke="#000" stroke-width="1.5" fill="none"/>
<path d="M226.4 956.7L289.5 976.2M188.7 1032.6L241.2 1048.2M179.1 1097.6H195.7V1145.7" stroke="#000" stroke-width="1.5" fill="none"/>
<circle cx="382.9" cy="438.7" r="5.8" fill="#000"/>
<circle cx="338.9" cy="495.2" r="5.8" fill="#000"/>
<circle cx="289.5" cy="583.7" r="5.8" fill="#000"/>
<circle cx="289.5" cy="976.2" r="5.8" fill="#000"/>
<circle cx="241.2" cy="1048.2" r="5.8" fill="#000"/>
<circle cx="193.7" cy="1145.7" r="5.8" fill="#000"/>
<rect x="299.7" y="652.6" width="278.5" height="52.2" rx="7" ry="7" fill="#fff" stroke="#000" stroke-width="2"/>
<path d="M318.4 676.1H385.4" stroke="#000" stroke-width="2.6"/>
<text x="517" y="31.4" font-size="46" textLength="319.5" lengthAdjust="spacingAndGlyphs" text-anchor="middle" xml:space="preserve"><tspan>Wavelength (nm)</tspan></text>
<text x="515.5" y="1313" font-size="46" text-anchor="middle" xml:space="preserve"><tspan>Photon energy (eV)</tspan></text>
<text transform="translate(31.8 628.2) rotate(-90)" font-size="46" text-anchor="middle">PL, PLE intensity (arb. units)</text>
<text x="126.2" y="92.2" font-size="46" text-anchor="middle" xml:space="preserve"><tspan>700</tspan></text>
<text x="243.6" y="92.2" font-size="46" text-anchor="middle" xml:space="preserve"><tspan>600</tspan></text>
<text x="408.1" y="92.2" font-size="46" text-anchor="middle" xml:space="preserve"><tspan>500</tspan></text>
<text x="654.7" y="92.2" font-size="46" text-anchor="middle" xml:space="preserve"><tspan>400</tspan></text>
<text x="830.8" y="92.2" font-size="46" text-anchor="middle" xml:space="preserve"><tspan>350</tspan></text>
<text x="138.3" y="1257" font-size="46" textLength="56.5" lengthAdjust="spacingAndGlyphs" text-anchor="middle" xml:space="preserve"><tspan>1.8</tspan></text>
<text x="257.6" y="1257" font-size="46" textLength="56.5" lengthAdjust="spacingAndGlyphs" text-anchor="middle" xml:space="preserve"><tspan>2.1</tspan></text>
<text x="377" y="1257" font-size="46" textLength="56.5" lengthAdjust="spacingAndGlyphs" text-anchor="middle" xml:space="preserve"><tspan>2.4</tspan></text>
<text x="496.3" y="1257" font-size="46" textLength="56.5" lengthAdjust="spacingAndGlyphs" text-anchor="middle" xml:space="preserve"><tspan>2.7</tspan></text>
<text x="615.7" y="1257" font-size="46" textLength="56.5" lengthAdjust="spacingAndGlyphs" text-anchor="middle" xml:space="preserve"><tspan>3.0</tspan></text>
<text x="735" y="1257" font-size="46" textLength="56.5" lengthAdjust="spacingAndGlyphs" text-anchor="middle" xml:space="preserve"><tspan>3.3</tspan></text>
<text x="854.4" y="1257" font-size="46" textLength="56.5" lengthAdjust="spacingAndGlyphs" text-anchor="middle" xml:space="preserve"><tspan>3.6</tspan></text>
<text x="973.7" y="1257" font-size="46" textLength="56.5" lengthAdjust="spacingAndGlyphs" text-anchor="middle" xml:space="preserve"><tspan>3.9</tspan></text>
<text x="90.3" y="188.7" font-size="42.5" xml:space="preserve"><tspan>(a)</tspan></text>
<text x="345.5" y="188.6" font-size="32" xml:space="preserve"><tspan font-size="21.1" dy="-14.4">4</tspan><tspan class="i" dy="14.4" dx="1.9">T</tspan><tspan font-size="21.1" dy="6.4">1</tspan><tspan dy="-6.4" dx="5.8">(ZPL)</tspan></text>
<text x="542" y="208.2" font-size="32" xml:space="preserve"><tspan font-size="21.1" dy="-16">4</tspan><tspan class="i" dy="16" dx="1.9">A</tspan><tspan font-size="21.1" dy="6.4">1</tspan><tspan dy="-6.4">, </tspan><tspan font-size="21.1" dy="-16">4</tspan><tspan class="i" dy="16" dx="1.9">E</tspan></text>
<text x="522.2" y="266.4" font-size="32" xml:space="preserve"><tspan font-size="21.1" dy="-16">4</tspan><tspan class="i" dy="16" dx="1.9">T</tspan><tspan font-size="21.1" dy="6.4">2</tspan></text>
<text x="708" y="188.5" font-size="36.5" textLength="244.5" lengthAdjust="spacingAndGlyphs" xml:space="preserve"><tspan>K</tspan><tspan font-size="26.3" dy="7.3">2</tspan><tspan dy="-7.3">ZnP</tspan><tspan font-size="26.3" dy="7.3">2</tspan><tspan dy="-7.3">O</tspan><tspan font-size="26.3" dy="7.3">7</tspan><tspan dy="-7.3">:Mn</tspan><tspan font-size="26.3" dy="-18.2">2+</tspan></text>
<text x="757.5" y="230" font-size="36.5" xml:space="preserve"><tspan class="i">T</tspan><tspan dx="-3"> =</tspan><tspan> 300 K</tspan></text>
<text x="234.6" y="312.8" font-size="36.9" style="fill:#ff0000;stroke:#ff0000;stroke-width:0.15px" textLength="43.6" lengthAdjust="spacingAndGlyphs" xml:space="preserve"><tspan>PL</tspan></text>
<text x="404.5" y="357.5" font-size="32" xml:space="preserve"><tspan font-size="21.1" dy="-16">6</tspan><tspan class="i" dy="16" dx="1.9">A</tspan><tspan font-size="21.1" dy="6.4">1</tspan><tspan font-family="DejaVu Sans" font-size="39" style="stroke:#fff;stroke-width:0.7px" dy="-4.2" dx="5.5">⇔</tspan><tspan font-size="21.1" dy="-18.2" dx="-1.5">6</tspan><tspan class="i" dy="16" dx="1.9">T</tspan><tspan font-size="21.1" dy="6.4">1</tspan></text>
<text x="751" y="351.8" font-size="32" xml:space="preserve"><tspan font-size="21.1" dy="-16">4</tspan><tspan class="i" dy="16" dx="1.9">E</tspan><tspan dx="5.4">(</tspan><tspan font-size="21.1" dy="-16">4</tspan><tspan class="i" dy="16">D</tspan><tspan>)</tspan></text>
<text x="646.5" y="417.3" font-size="32" xml:space="preserve"><tspan font-size="21.1" dy="-16">4</tspan><tspan class="i" dy="16" dx="1.9">T</tspan><tspan font-size="21.1" dy="6.4">2</tspan><tspan dy="-6.4" dx="5.4">(</tspan><tspan font-size="21.1" dy="-16">4</tspan><tspan class="i" dy="16">D</tspan><tspan>)</tspan></text>
<text x="868.4" y="456.6" font-size="36.9" style="fill:#0000ff;stroke:#0000ff;stroke-width:0.15px" textLength="66.3" lengthAdjust="spacingAndGlyphs" xml:space="preserve"><tspan>PLE</tspan></text>
<text x="410.5" y="495.7" font-size="32" xml:space="preserve"><tspan font-size="21.1" dy="-17.3">4</tspan><tspan class="i" dy="17.3" dx="1.9">T</tspan><tspan font-size="21.1" dy="6.4">1</tspan><tspan dy="-6.4" dx="6.5">(</tspan><tspan class="i">E</tspan><tspan font-size="21.1" dy="6.4">0</tspan><tspan dy="-6.4">)</tspan></text>
<text x="95.3" y="410" font-size="28.7" textLength="174.6" lengthAdjust="spacingAndGlyphs" xml:space="preserve"><tspan>Peak 1 [Mn(I)]</tspan></text>
<text x="83.8" y="481.2" font-size="28.7" textLength="184.6" lengthAdjust="spacingAndGlyphs" xml:space="preserve"><tspan>Peak 2 [Mn(II)]</tspan></text>
<text x="72" y="546.2" font-size="28.7" textLength="195.5" lengthAdjust="spacingAndGlyphs" xml:space="preserve"><tspan>Peak 3 [Mn(III)]</tspan></text>
<text x="392.4" y="688" font-size="32" xml:space="preserve"><tspan>Gaussian fits</tspan></text>
<text x="90.5" y="757.2" font-size="42.5" xml:space="preserve"><tspan>(b)</tspan></text>
<text x="300.5" y="763.5" font-size="32" xml:space="preserve"><tspan>S</tspan></text>
<text x="411.5" y="763.5" font-size="32" xml:space="preserve"><tspan>a-S</tspan></text>
<text x="717.5" y="750" font-size="36.5" textLength="224.5" lengthAdjust="spacingAndGlyphs" xml:space="preserve"><tspan>LiZnPO</tspan><tspan font-size="26.3" dy="7.3">4</tspan><tspan dy="-7.3">:Mn</tspan><tspan font-size="26.3" dy="-18.2">2+</tspan></text>
<text x="757.5" y="792.3" font-size="36.5" xml:space="preserve"><tspan class="i">T</tspan><tspan dx="-3"> =</tspan><tspan> 300 K</tspan></text>
<text x="162.8" y="861.8" font-size="36.9" style="fill:#ff0000;stroke:#ff0000;stroke-width:0.15px" textLength="43.6" lengthAdjust="spacingAndGlyphs" xml:space="preserve"><tspan>PL</tspan></text>
<text x="568.4" y="784.3" font-size="32" xml:space="preserve"><tspan font-size="21.1" dy="-16">4</tspan><tspan class="i" dy="16" dx="1.9">A</tspan><tspan font-size="21.1" dy="6.4">1</tspan><tspan dy="-6.4">, </tspan><tspan font-size="21.1" dy="-16">4</tspan><tspan class="i" dy="16" dx="1.9">E</tspan></text>
<text x="784.4" y="881.2" font-size="32" xml:space="preserve"><tspan font-size="21.1" dy="-16">4</tspan><tspan class="i" dy="16" dx="1.9">E</tspan><tspan dx="5.4">(</tspan><tspan font-size="21.1" dy="-16">4</tspan><tspan class="i" dy="16">D</tspan><tspan>)</tspan></text>
<text x="358.6" y="920.6" font-size="32" xml:space="preserve"><tspan font-size="21.1" dy="-16">6</tspan><tspan class="i" dy="16" dx="1.9">A</tspan><tspan font-size="21.1" dy="6.4">1</tspan><tspan font-family="DejaVu Sans" font-size="39" style="stroke:#fff;stroke-width:0.7px" dy="-4.2" dx="5.5">⇔</tspan><tspan font-size="21.1" dy="-18.2" dx="-1.5">6</tspan><tspan class="i" dy="16" dx="1.9">T</tspan><tspan font-size="21.1" dy="6.4">1</tspan></text>
<text x="541.8" y="933.7" font-size="32" xml:space="preserve"><tspan font-size="21.1" dy="-16">4</tspan><tspan class="i" dy="16" dx="1.9">T</tspan><tspan font-size="21.1" dy="6.4">2</tspan></text>
<text x="339.5" y="992.6" font-size="32" xml:space="preserve"><tspan font-size="21.1" dy="-17.3">4</tspan><tspan class="i" dy="17.3" dx="1.9">T</tspan><tspan font-size="21.1" dy="6.4">1</tspan><tspan dy="-6.4" dx="5.8">(ZPL)</tspan></text>
<text x="692.3" y="1019.5" font-size="32" xml:space="preserve"><tspan font-size="21.1" dy="-16">4</tspan><tspan class="i" dy="16" dx="1.9">T</tspan><tspan font-size="21.1" dy="6.4">2</tspan><tspan dy="-6.4" dx="5.4">(</tspan><tspan font-size="21.1" dy="-16">4</tspan><tspan class="i" dy="16">D</tspan><tspan>)</tspan></text>
<text x="881.4" y="1018.9" font-size="36.9" style="fill:#0000ff;stroke:#0000ff;stroke-width:0.15px" textLength="66.3" lengthAdjust="spacingAndGlyphs" xml:space="preserve"><tspan>PLE</tspan></text>
<text x="401.5" y="1083.6" font-size="32" xml:space="preserve"><tspan font-size="21.1" dy="-17.3">4</tspan><tspan class="i" dy="17.3" dx="1.9">T</tspan><tspan font-size="21.1" dy="6.4">1</tspan><tspan dy="-6.4" dx="6">(</tspan><tspan class="i">E</tspan><tspan font-size="21.1" dy="6.4">0</tspan><tspan dy="-6.4">)</tspan></text>
<text x="174.8" y="946.8" font-size="28.7" text-anchor="middle" xml:space="preserve"><tspan>Peak 1</tspan></text>
<text x="175.7" y="978" font-size="28.7" textLength="89.5" lengthAdjust="spacingAndGlyphs" text-anchor="middle" xml:space="preserve"><tspan>[Mn(I)]</tspan></text>
<text x="129.5" y="1018.3" font-size="28.7" text-anchor="middle" xml:space="preserve"><tspan>Peak 2</tspan></text>
<text x="130" y="1049.3" font-size="28.7" textLength="99.5" lengthAdjust="spacingAndGlyphs" text-anchor="middle" xml:space="preserve"><tspan>[Mn(II)]</tspan></text>
<text x="123" y="1096.3" font-size="28.7" text-anchor="middle" xml:space="preserve"><tspan>Peak 3</tspan></text>
<text x="124" y="1126.2" font-size="28.7" textLength="109.5" lengthAdjust="spacingAndGlyphs" text-anchor="middle" xml:space="preserve"><tspan>[Mn(III)]</tspan></text>
</svg></body></html>
